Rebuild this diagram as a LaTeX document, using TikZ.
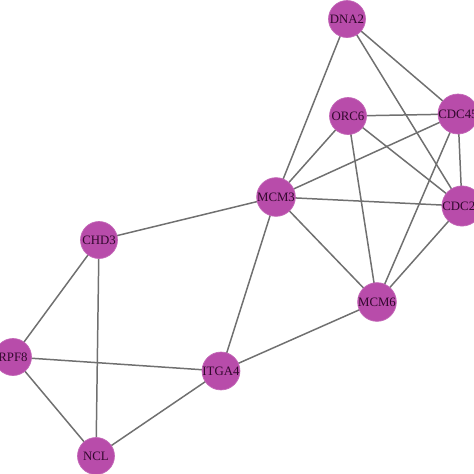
\documentclass[tikz,border=0pt]{standalone}
\usepackage{fontspec}
\setmainfont{Liberation Serif}
\usepackage{tikz}
\definecolor{genefill}{RGB}{184,76,170}
\definecolor{genetext}{RGB}{50,8,45}
\definecolor{edgegray}{RGB}{112,112,112}

\begin{document}
\begin{tikzpicture}[x=0.02cm, y=-0.02cm,
    gene/.style={circle, fill=genefill, draw=genefill!85!white, line width=0.4pt,
      minimum size=0.74cm, inner sep=0pt, text=genetext,
      font=\fontsize{7.3}{8}\selectfont},
    link/.style={draw=edgegray, line width=0.85pt}]
      \useasboundingbox (0,0) rectangle (474,474);
      \begin{scope}
      \clip (0,0) rectangle (474,474);
      \coordinate (pDNA2)  at (347, 19);
      \coordinate (pORC6)  at (348,116);
      \coordinate (pCDC45) at (458,114);
      \coordinate (pMCM3)  at (276,197);
      \coordinate (pCDC20) at (462,206);
      \coordinate (pCHD3)  at ( 99,240);
      \coordinate (pMCM6)  at (377,302);
      \coordinate (pRPF8)  at ( 13,357);
      \coordinate (pITGA4) at (221,371);
      \coordinate (pNCL)   at ( 96,456);
      \foreach \a/\b in {DNA2/MCM3, DNA2/CDC45, DNA2/CDC20, ORC6/CDC45, ORC6/MCM3,
          ORC6/MCM6, ORC6/CDC20, CDC45/MCM3, CDC45/MCM6, CDC45/CDC20, MCM3/CDC20,
          MCM3/MCM6, MCM3/CHD3, MCM3/ITGA4, CDC20/MCM6, CHD3/RPF8, CHD3/NCL,
          RPF8/ITGA4, RPF8/NCL, NCL/ITGA4, ITGA4/MCM6}
        \draw[link] (p\a) -- (p\b);
      \foreach \g in {DNA2, ORC6, CDC45, MCM3, CDC20, CHD3, MCM6, RPF8, ITGA4, NCL}
        \node[gene] (\g) at (p\g) {\g};
      \end{scope}
    \end{tikzpicture}
\end{document}
